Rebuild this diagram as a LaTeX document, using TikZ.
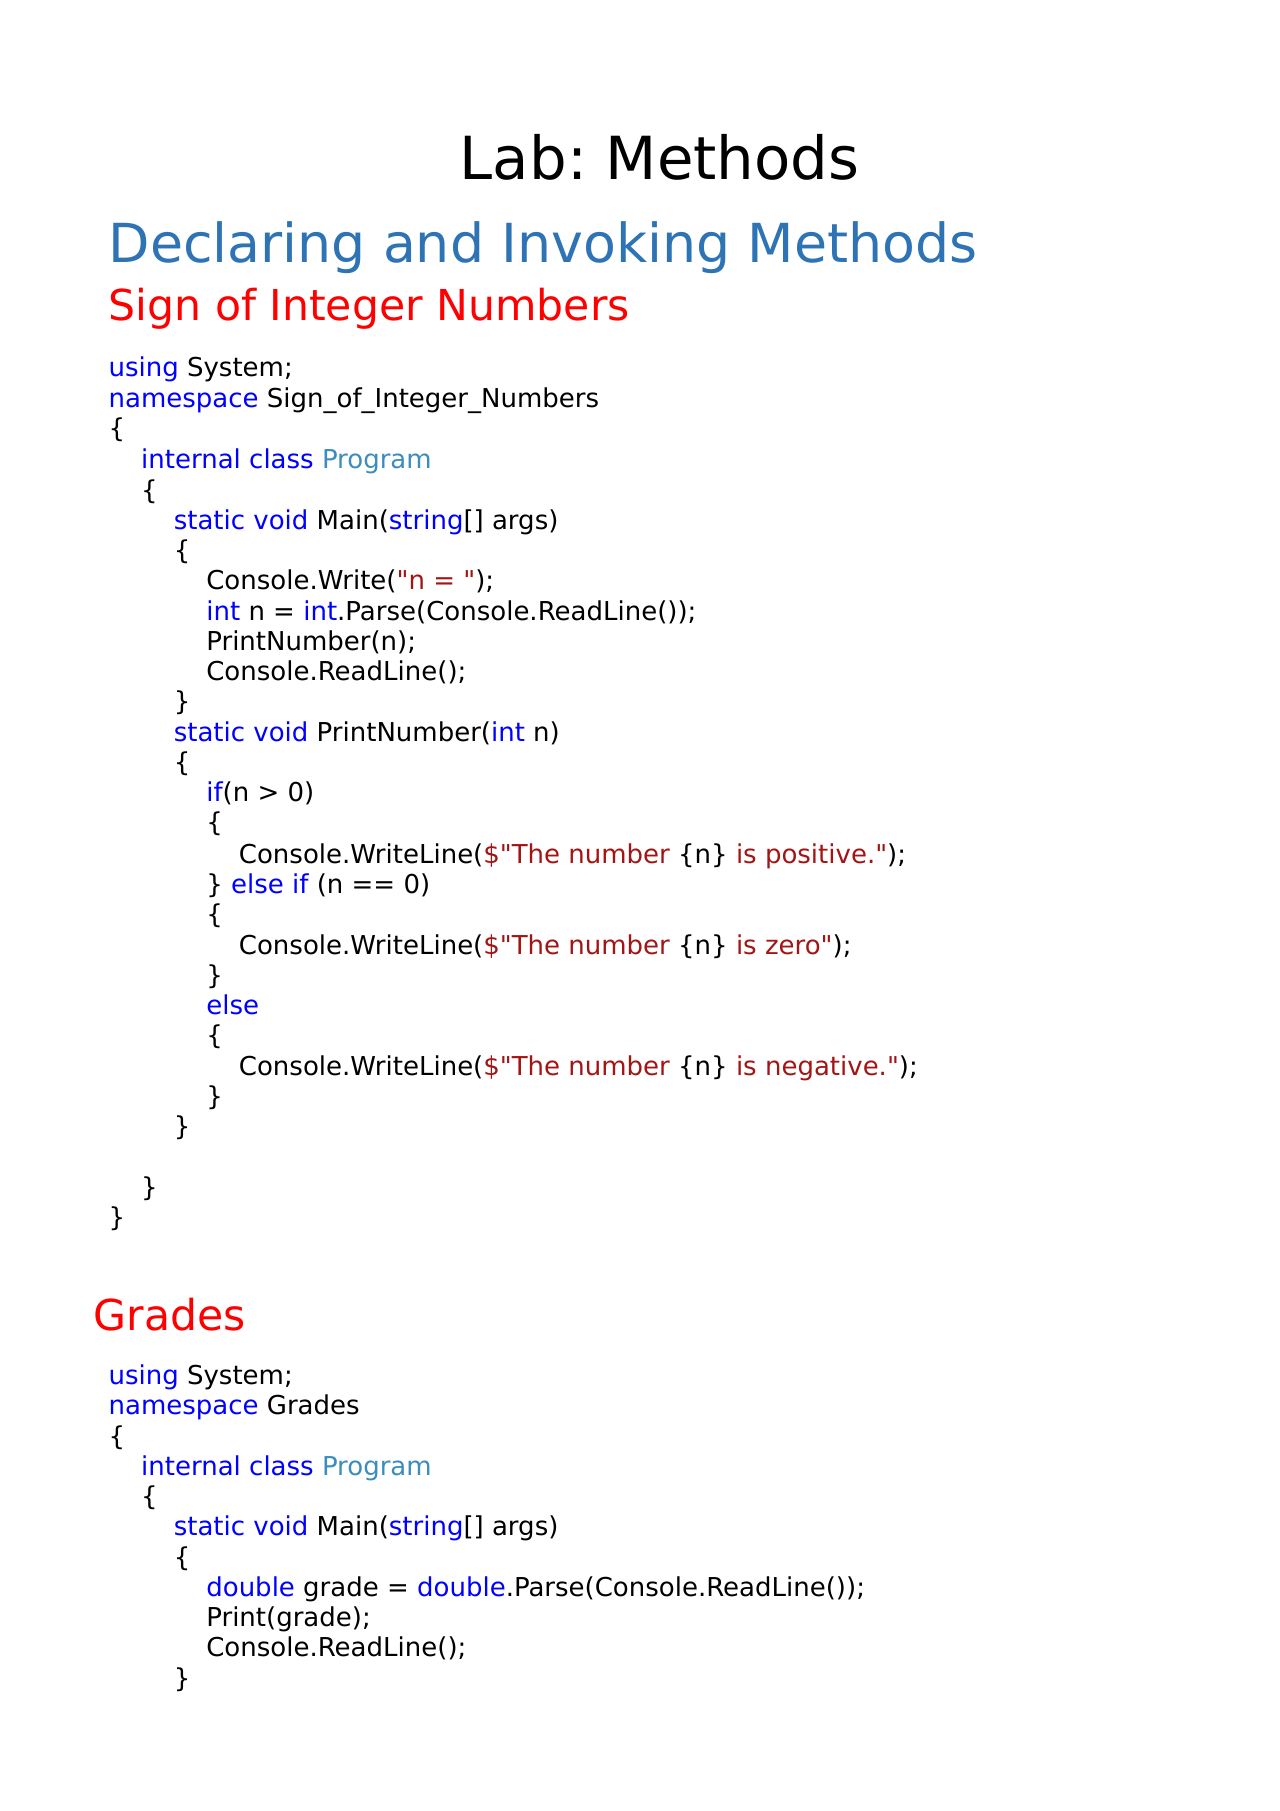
\documentclass[tikz,border=0pt]{standalone}
\usepackage{fontspec}
\setmainfont{DejaVu Sans}[Ligatures=NoCommon,Mapping=]
\frenchspacing
\definecolor{kw}{RGB}{0,0,255}
\definecolor{cls}{RGB}{60,140,190}
\definecolor{str}{RGB}{163,21,21}
\definecolor{hblue}{RGB}{46,116,181}
\newcommand{\K}[1]{\textcolor{kw}{#1}}
\newcommand{\C}[1]{\textcolor{cls}{#1}}
\newcommand{\St}[1]{\textcolor{str}{#1}}
\newcommand{\Q}{\symbol{34}}
\tikzset{codeline/.style={anchor=base west,inner sep=0pt,font=\fontsize{13}{15}\selectfont}}
\newcommand{\CL}[4]{\node[codeline] (#1) at ({93+28*#3},{#2+6}) {#4};}
\begin{document}
\begin{tikzpicture}[x=0.5818pt,y=-0.5818pt]
\useasboundingbox (0,0) rectangle (1100,1556.5);
\node[inner sep=0pt,font=\fontsize{29.7}{34}\selectfont] (title) at (567,135) {Lab: Methods};
\node[anchor=west,inner sep=0pt,text=hblue,font=\fontsize{26.9}{30}\selectfont] (h1) at (93,213) {Declaring and Invoking Methods};
\node[anchor=west,inner sep=0pt,text=red,font=\fontsize{21.3}{25}\selectfont] (h2) at (93,265) {Sign of Integer Numbers};
\CL{a1}{318}{0}{\K{using} System;}
\CL{a2}{344}{0}{\K{namespace} Sign\_of\_Integer\_Numbers}
\CL{a3}{370}{0}{\{}
\CL{a4}{397}{1}{\K{internal class} \C{Program}}
\CL{a5}{423}{1}{\{}
\CL{a6}{449}{2}{\K{static void} Main(\K{string}[] args)}
\CL{a7}{475}{2}{\{}
\CL{a8}{501}{3}{Console.Write(\St{\Q n = \Q});}
\CL{a9}{527}{3}{\K{int} n = \K{int}.Parse(Console.ReadLine());}
\CL{a10}{553}{3}{PrintNumber(n);}
\CL{a11}{579}{3}{Console.ReadLine();}
\CL{a12}{605}{2}{\}}
\CL{a13}{631}{2}{\K{static void} PrintNumber(\K{int} n)}
\CL{a14}{657}{2}{\{}
\CL{a15}{683}{3}{\K{if}(n > 0)}
\CL{a16}{709}{3}{\{}
\CL{a17}{736}{4}{Console.WriteLine(\St{\$\Q The number} \{n\} \St{is positive.\Q});}
\CL{a18}{762}{3}{\} \K{else if} (n == 0)}
\CL{a19}{788}{3}{\{}
\CL{a20}{814}{4}{Console.WriteLine(\St{\$\Q The number} \{n\} \St{is zero\Q});}
\CL{a21}{840}{3}{\}}
\CL{a22}{866}{3}{\K{else}}
\CL{a23}{892}{3}{\{}
\CL{a24}{918}{4}{Console.WriteLine(\St{\$\Q The number} \{n\} \St{is negative.\Q});}
\CL{a25}{944}{3}{\}}
\CL{a26}{970}{2}{\}}
\CL{a27}{1022}{1}{\}}
\CL{a28}{1048}{0}{\}}
\node[anchor=west,inner sep=0pt,text=red,font=\fontsize{21.3}{25}\selectfont] (h3) at (80,1130) {Grades};
\CL{b1}{1184}{0}{\K{using} System;}
\CL{b2}{1210}{0}{\K{namespace} Grades}
\CL{b3}{1236}{0}{\{}
\CL{b4}{1262}{1}{\K{internal class} \C{Program}}
\CL{b5}{1288}{1}{\{}
\CL{b6}{1314}{2}{\K{static void} Main(\K{string}[] args)}
\CL{b7}{1340}{2}{\{}
\CL{b8}{1366}{3}{\K{double} grade = \K{double}.Parse(Console.ReadLine());}
\CL{b9}{1392}{3}{Print(grade);}
\CL{b10}{1418}{3}{Console.ReadLine();}
\CL{b11}{1444}{2}{\}}
\end{tikzpicture}
\end{document}
